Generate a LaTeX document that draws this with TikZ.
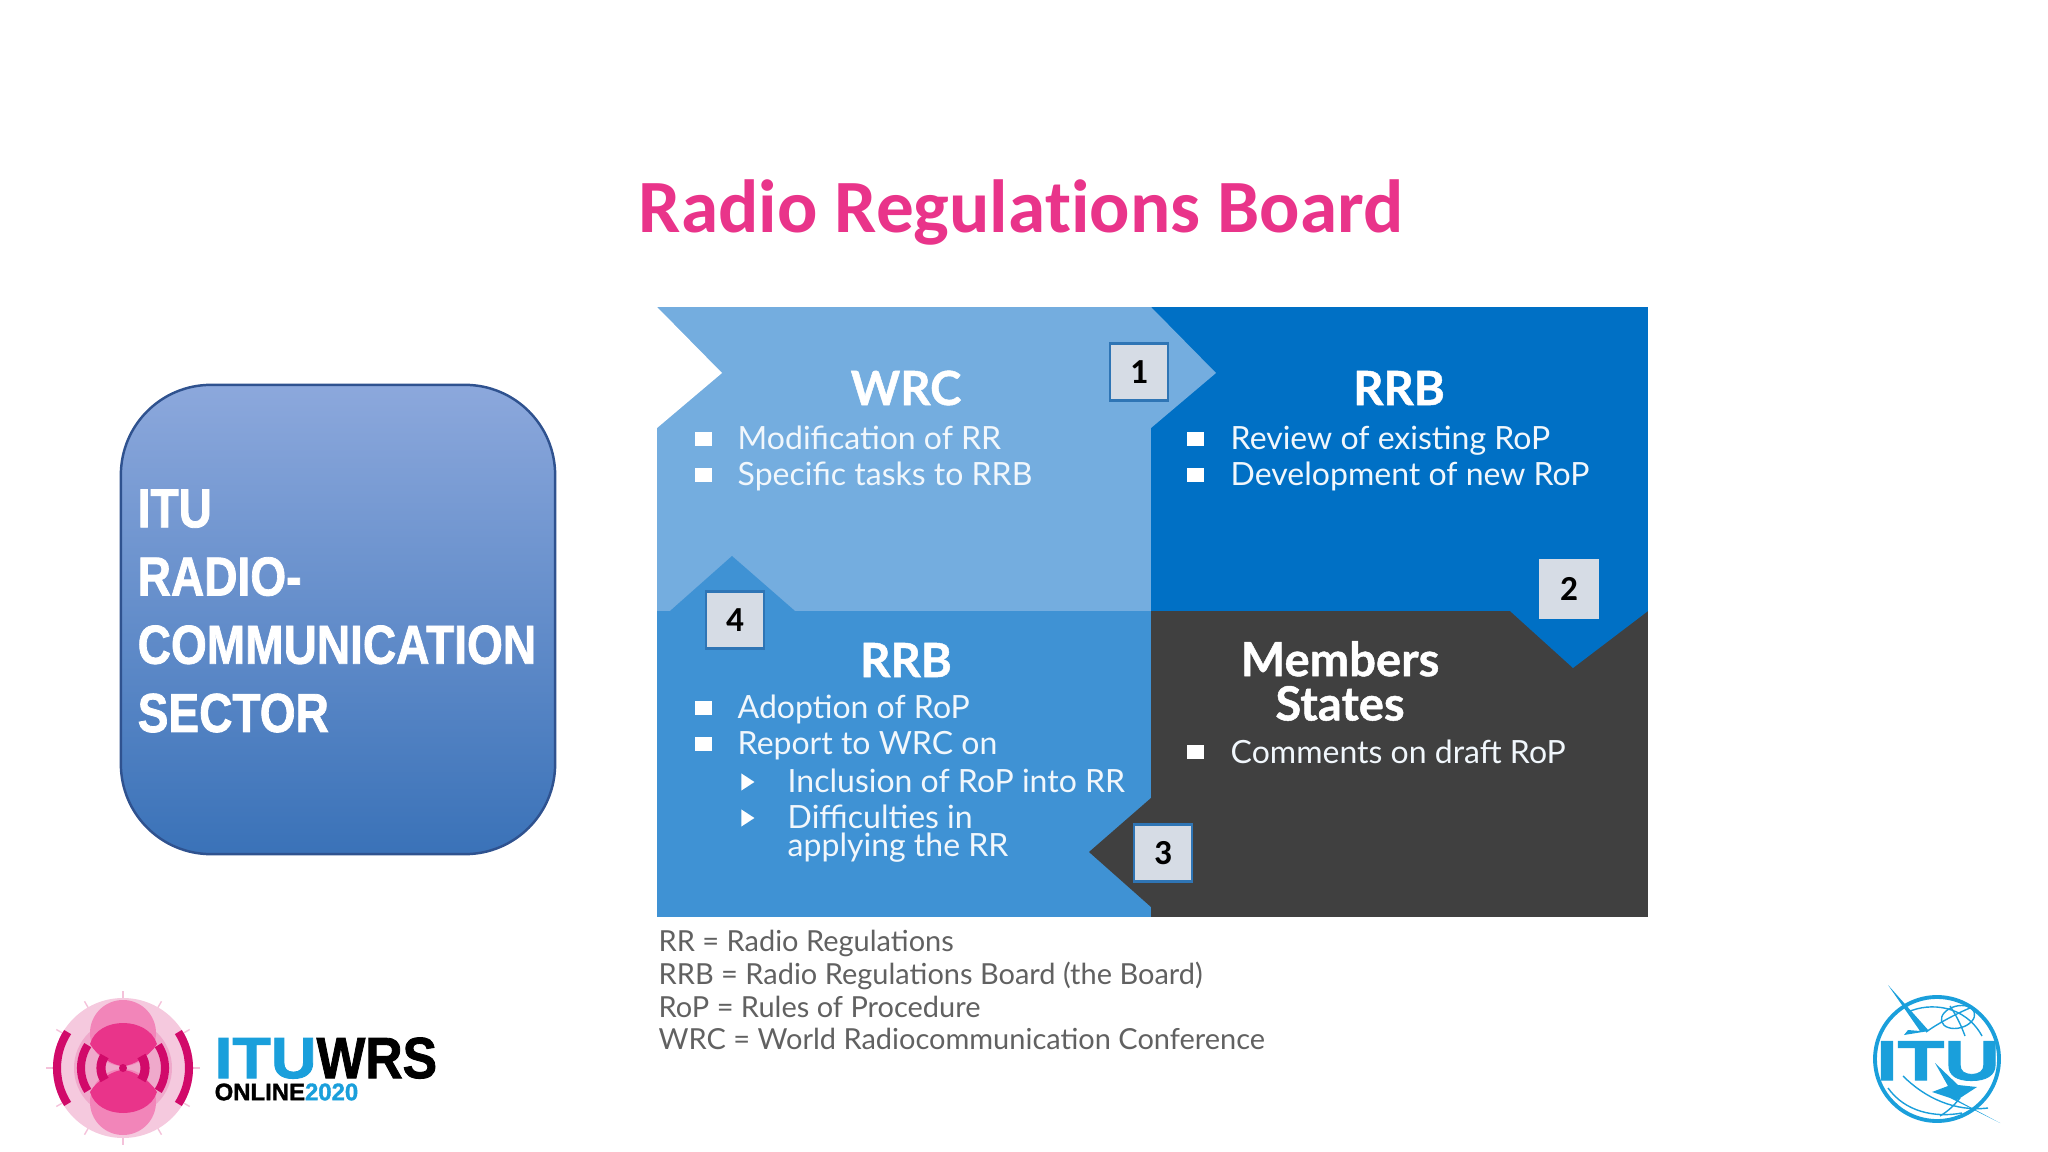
\documentclass[tikz,border=0pt]{standalone}
\usepackage{fontspec}
\usepackage{tikz}
\usetikzlibrary{shapes.geometric}
\setmainfont{Carlito}
\newfontfamily\panelfont[BoldFeatures={FakeBold=1}]{Lato}
\newfontfamily\logofont[BoldFeatures={FakeBold=1.5}]{Liberation Sans}
\newcommand{\narrowline}[1]{\scalebox{.84}[1]{#1}}
\definecolor{wrcblue}{HTML}{74ADDF}
\definecolor{rrbblue}{HTML}{0070C5}
\definecolor{adoptblue}{HTML}{3F92D4}
\definecolor{membergrey}{HTML}{404040}
\definecolor{titlepink}{HTML}{E9348A}
\definecolor{itublue}{HTML}{1A9FDB}
\definecolor{wavepink}{HTML}{D10A6A}
\definecolor{numfill}{HTML}{D6DCE5}
\definecolor{numedge}{HTML}{2F75B5}
\definecolor{sectortop}{HTML}{8CA8DC}
\definecolor{sectormiddle}{HTML}{4C7AC6}
\definecolor{sectorbottom}{HTML}{3A72B8}
\definecolor{sectoredge}{HTML}{2F528F}
\tikzset{
  numbox/.style={draw=numedge,fill=numfill,line width=.6pt,inner sep=0pt,minimum width=.58cm,minimum height=.57cm,
    font=\fontsize{10}{10}\selectfont\bfseries,text=black},
  heading/.style={font=\panelfont\fontsize{13.4}{12.6}\selectfont\bfseries,text=white},
  item/.style={anchor=base west,inner sep=0pt,font=\panelfont\fontsize{9.1}{9.1}\selectfont,text=white!90!wrcblue},
  squarebullet/.style={fill=white,inner sep=0pt,minimum width=.17cm,minimum height=.13cm},
  arrowbullet/.style={isosceles triangle,isosceles triangle stretches,fill=white,inner sep=0pt,minimum height=.13cm,minimum width=.17cm},
  legend/.style={anchor=base west,inner sep=0pt,text=black!62,font=\panelfont\fontsize{8.24}{8.24}\selectfont},
}
\begin{document}
\begin{tikzpicture}[x=0.01cm,y=-0.01cm]
\useasboundingbox (0,0) rectangle (2048,1152);

\node (title) at (1021,212) {\fontsize{21.4}{21.4}\selectfont\bfseries\textcolor{titlepink}{Radio Regulat\kern0pt ions Board}};

\node[draw=sectoredge,line width=.7pt,rounded corners=.9cm,minimum width=4.34cm,minimum height=4.69cm,
  top color=sectortop,middle color=sectormiddle,bottom color=sectorbottom] (sectorbox) at (338,619.5) {};
\node[anchor=west,align=left,inner sep=0pt,text=white,font=\fontsize{15.6}{19.4}\selectfont\sffamily\logofont\bfseries] (sectortext) at (137,611)
  {\narrowline{ITU}\\\narrowline{RADIO-}\\\narrowline{COMMUNICATION}\\\narrowline{SECTOR}};

% the four quarters
\fill[wrcblue] (657,307) rectangle (1151,611);
\fill[rrbblue] (1151,307) rectangle (1648,611);
\fill[adoptblue] (657,611) rectangle (1151,917);
\fill[membergrey] (1151,611) rectangle (1648,917);
\fill[white] (657,307) -- (722,373) -- (657,428) -- cycle;
\fill[wrcblue] (1151,307) -- (1216,373) -- (1151,428) -- cycle;
\fill[rrbblue] (1510,611) -- (1573,668) -- (1648,611) -- cycle;
\fill[membergrey] (1151,798) -- (1089,852) -- (1151,907) -- cycle;
\fill[adoptblue] (670,611) -- (732,556) -- (795,611) -- cycle;

\node[numbox] (one) at (1139,372) {1};
\node[numbox,draw=numfill] (two) at (1569,589) {2};
\node[numbox] (three) at (1163,853) {3};
\node[numbox] (four) at (735,620) {4};

\node[heading] (wrc) at (906,388) {WRC};
\node[squarebullet] (wrcA) at (703,439) {};
\node[item] (wrcAtext) at (737,450) {Modification of RR};
\node[squarebullet] (wrcB) at (703,475) {};
\node[item] (wrcBtext) at (737,486) {Specific tasks to RRB};

\node[heading] (rrb) at (1399,388) {RRB};
\node[squarebullet] (rrbA) at (1195,439) {};
\node[item] (rrbAtext) at (1230,450) {Review of existing RoP};
\node[squarebullet] (rrbB) at (1195,475) {};
\node[item] (rrbBtext) at (1230,486) {Development of new RoP};

\node[heading] (board) at (906,660) {RRB};
\node[squarebullet] (boardA) at (703,708) {};
\node[item] (boardAtext) at (737,718) {Adoption of RoP};
\node[squarebullet] (boardB) at (703,744) {};
\node[item] (boardBtext) at (737,754) {Report to WRC on};
\node[arrowbullet] (boardC) at (746,782) {};
\node[item] (boardCtext) at (787,792) {Inclusion of RoP into RR};
\node[arrowbullet] (boardD) at (746,818) {};
\node[item] (boardDtext) at (787,828) {Difficulties in};
\node[item] (boardEtext) at (787,856) {applying the RR};

\node[heading,align=center] (members) at (1340,681) {Members\\States};
\node[squarebullet] (membersA) at (1195,752) {};
\node[item] (membersAtext) at (1230,763) {Comments on draft RoP};

\node[legend] (legendA) at (658,951) {RR = Radio Regulations};
\node[legend] (legendB) at (658,984) {RRB = Radio Regulations Board (the Board)};
\node[legend] (legendC) at (658,1017) {RoP = Rules of Procedure};
\node[legend] (legendD) at (658,1049) {WRC = World Radiocommunication Conference};

% logo on the left
\coordinate (wave) at (123,1068);
\foreach \a in {0,30,...,330} \draw[wavepink!25,line width=.4pt] (wave) -- +(\a:77);
\fill[wavepink!22] (wave) circle (70);
\fill[wavepink!35] (wave) circle (49);
\fill[titlepink!60] (123,1033) circle (33);
\fill[titlepink!60] (123,1102) circle (33);
\fill[titlepink] (90,1044) .. controls (98,1016) and (148,1016) .. (157,1044) .. controls (150,1056) and (132,1066) .. (123,1066) .. controls (114,1066) and (97,1056) .. (90,1044) -- cycle;
\fill[titlepink] (90,1092) .. controls (98,1120) and (148,1120) .. (157,1092) .. controls (150,1080) and (132,1070) .. (123,1070) .. controls (114,1070) and (97,1080) .. (90,1092) -- cycle;
\foreach \r/\w in {66/2.3,42/2.3,22/2.6} {
  \draw[wavepink,line width=\w pt] ([shift={(147:\r)}]wave) arc (147:213:\r);
  \draw[wavepink,line width=\w pt] ([shift={(33:\r)}]wave) arc (33:-33:\r);
}
\fill[wavepink] (wave) circle (4);
\node[anchor=west,align=left,inner sep=0pt,font=\logofont\bfseries\fontsize{16.5}{6.3}\selectfont] (wrsname) at (214,1069)
  {\scalebox{1.09}[1]{\textcolor{itublue}{ITU}}\scalebox{.89}[1]{\textcolor{black}{WRS}}\\
   {\fontsize{6.8}{6.3}\selectfont\textcolor{black}{ONLINE}\textcolor{itublue}{2020}}};

% logo on the right
\draw[itublue,line width=1.1pt] (1937,1059) circle (62);
\fill[itublue] (1888,985) -- (1929,1031) -- (1904,1035) -- (1908,1030) -- (1920,1031) -- cycle;
\fill[itublue] (1935,1063) -- (1958,1085) -- (1977,1087) -- (1957,1100) -- (2000,1123) -- (1950,1098) -- (1932,1092) -- (1948,1086) -- cycle;
\draw[itublue,line width=.4pt,rotate around={15:(1958,1017)}] (1958,1017) ellipse (17 and 11);
\draw[itublue,line width=.4pt] (1908,1012) .. controls (1930,1002) and (1965,1005) .. (1982,1036);
\draw[itublue,line width=.4pt] (1926,1032) .. controls (1940,1022) and (1960,1012) .. (1970,1008);
\draw[itublue,line width=.4pt] (1950,1006) .. controls (1958,1018) and (1962,1028) .. (1965,1036);
\draw[itublue,line width=.4pt] (1903,1076) .. controls (1925,1098) and (1955,1112) .. (1988,1108);
\draw[itublue,line width=.4pt] (1888,1088) .. controls (1905,1112) and (1935,1118) .. (1962,1113);
\draw[itublue,line width=.4pt] (1940,1116) .. controls (1950,1110) and (1955,1104) .. (1960,1098);
\node[inner sep=0pt,font=\logofont\bfseries\fontsize{16}{16}\selectfont,text=itublue] (itu) at (1938,1061) {\scalebox{1.36}[1]{ITU}};
\end{tikzpicture}
\end{document}
